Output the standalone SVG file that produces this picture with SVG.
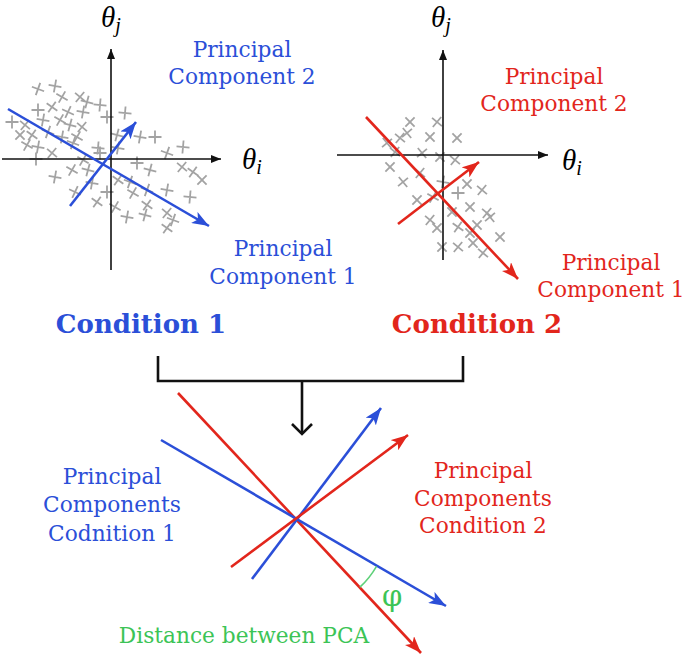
<svg xmlns="http://www.w3.org/2000/svg" xmlns:xlink="http://www.w3.org/1999/xlink" width="685" height="655" viewBox="0 0 685 655">
<style>
.bl{fill:#2b4fd8}
.rd{fill:#e2261c}
.gr{fill:#3cc456}
.t{font-family:"DejaVu Serif","Liberation Serif",serif;font-size:21.7px;text-anchor:middle}
.cond{font-family:"DejaVu Serif","Liberation Serif",serif;font-size:26px;font-weight:bold;text-anchor:middle}
.th{font-family:"Liberation Serif","DejaVu Serif",serif;font-style:italic;font-size:29px}
.sub{font-size:20px}
.ax{stroke:#111;stroke-width:1.6;fill:none}
.lb{stroke:#2b4fd8;stroke-width:2.6;fill:none}
.lr{stroke:#e2261c;stroke-width:2.6;fill:none}
.cr use{stroke:#a3a3a3;stroke-width:1.8}
</style>
<defs>
<path id="c" d="M-6.5,0H6.5M0,-6.5V6.5" fill="none"/>
<marker id="ak" viewBox="0 0 10 10" refX="10" refY="5" markerWidth="10" markerHeight="10" markerUnits="userSpaceOnUse" orient="auto"><path d="M0,1L10,5L0,9z" fill="#111"/></marker>
<marker id="ab" viewBox="0 0 16 12" refX="16" refY="6" markerWidth="17" markerHeight="13" markerUnits="userSpaceOnUse" orient="auto"><path d="M0,0L16,6L0,12L4,6z" fill="#2b4fd8"/></marker>
<marker id="ar" viewBox="0 0 16 12" refX="16" refY="6" markerWidth="17" markerHeight="13" markerUnits="userSpaceOnUse" orient="auto"><path d="M0,0L16,6L0,12L4,6z" fill="#e2261c"/></marker>
</defs>

<g id="plot1">
<g class="cr">
<use xlink:href="#c" transform="translate(38,89) rotate(20)"/>
<use xlink:href="#c" transform="translate(55,86) rotate(10)"/>
<use xlink:href="#c" transform="translate(62,97) rotate(30)"/>
<use xlink:href="#c" transform="translate(80,97) rotate(40)"/>
<use xlink:href="#c" transform="translate(87,102) rotate(15)"/>
<use xlink:href="#c" transform="translate(100,105) rotate(5)"/>
<use xlink:href="#c" transform="translate(38,110) rotate(0)"/>
<use xlink:href="#c" transform="translate(52,107) rotate(35)"/>
<use xlink:href="#c" transform="translate(68,112) rotate(25)"/>
<use xlink:href="#c" transform="translate(83,112) rotate(10)"/>
<use xlink:href="#c" transform="translate(107,117) rotate(0)"/>
<use xlink:href="#c" transform="translate(125,113) rotate(5)"/>
<use xlink:href="#c" transform="translate(12,122) rotate(0)"/>
<use xlink:href="#c" transform="translate(25,125) rotate(40)"/>
<use xlink:href="#c" transform="translate(43,120) rotate(10)"/>
<use xlink:href="#c" transform="translate(60,120) rotate(30)"/>
<use xlink:href="#c" transform="translate(70,125) rotate(15)"/>
<use xlink:href="#c" transform="translate(82,127) rotate(40)"/>
<use xlink:href="#c" transform="translate(20,135) rotate(45)"/>
<use xlink:href="#c" transform="translate(32,135) rotate(35)"/>
<use xlink:href="#c" transform="translate(48,132) rotate(20)"/>
<use xlink:href="#c" transform="translate(62,137) rotate(10)"/>
<use xlink:href="#c" transform="translate(77,137) rotate(30)"/>
<use xlink:href="#c" transform="translate(117,135) rotate(15)"/>
<use xlink:href="#c" transform="translate(140,137) rotate(10)"/>
<use xlink:href="#c" transform="translate(155,137) rotate(0)"/>
<use xlink:href="#c" transform="translate(27,145) rotate(30)"/>
<use xlink:href="#c" transform="translate(38,147) rotate(10)"/>
<use xlink:href="#c" transform="translate(73,143) rotate(20)"/>
<use xlink:href="#c" transform="translate(98,148) rotate(5)"/>
<use xlink:href="#c" transform="translate(52,153) rotate(40)"/>
<use xlink:href="#c" transform="translate(36,159) rotate(0)"/>
<use xlink:href="#c" transform="translate(83,160) rotate(30)"/>
<use xlink:href="#c" transform="translate(100,153) rotate(0)"/>
<use xlink:href="#c" transform="translate(118,148) rotate(10)"/>
<use xlink:href="#c" transform="translate(167,153) rotate(20)"/>
<use xlink:href="#c" transform="translate(183,147) rotate(5)"/>
<use xlink:href="#c" transform="translate(137,163) rotate(0)"/>
<use xlink:href="#c" transform="translate(150,170) rotate(15)"/>
<use xlink:href="#c" transform="translate(182,167) rotate(40)"/>
<use xlink:href="#c" transform="translate(193,172) rotate(35)"/>
<use xlink:href="#c" transform="translate(202,180) rotate(45)"/>
<use xlink:href="#c" transform="translate(55,177) rotate(10)"/>
<use xlink:href="#c" transform="translate(72,170) rotate(30)"/>
<use xlink:href="#c" transform="translate(88,170) rotate(15)"/>
<use xlink:href="#c" transform="translate(118,180) rotate(35)"/>
<use xlink:href="#c" transform="translate(130,182) rotate(20)"/>
<use xlink:href="#c" transform="translate(75,192) rotate(25)"/>
<use xlink:href="#c" transform="translate(92,183) rotate(10)"/>
<use xlink:href="#c" transform="translate(107,192) rotate(0)"/>
<use xlink:href="#c" transform="translate(97,202) rotate(35)"/>
<use xlink:href="#c" transform="translate(133,193) rotate(30)"/>
<use xlink:href="#c" transform="translate(147,190) rotate(20)"/>
<use xlink:href="#c" transform="translate(167,190) rotate(10)"/>
<use xlink:href="#c" transform="translate(190,197) rotate(5)"/>
<use xlink:href="#c" transform="translate(115,207) rotate(30)"/>
<use xlink:href="#c" transform="translate(127,217) rotate(10)"/>
<use xlink:href="#c" transform="translate(147,205) rotate(35)"/>
<use xlink:href="#c" transform="translate(145,215) rotate(15)"/>
<use xlink:href="#c" transform="translate(167,213) rotate(40)"/>
<use xlink:href="#c" transform="translate(173,220) rotate(20)"/>
<use xlink:href="#c" transform="translate(167,228) rotate(35)"/>
</g>
<line class="ax" x1="111" y1="270" x2="111" y2="49" marker-end="url(#ak)"/>
<line class="ax" x1="2" y1="159" x2="221" y2="159" marker-end="url(#ak)"/>
<line class="lb" x1="8" y1="109" x2="209" y2="226" marker-end="url(#ab)"/>
<line class="lb" x1="70" y1="206" x2="136" y2="122" marker-end="url(#ab)"/>
<text class="th" x="101" y="27">θ<tspan class="sub" dy="5">j</tspan></text>
<text class="th" x="242" y="169">θ<tspan class="sub" dy="5">i</tspan></text>
<text class="t bl" x="242" y="57">Principal</text>
<text class="t bl" x="242" y="84">Component 2</text>
<text class="t bl" x="283" y="256">Principal</text>
<text class="t bl" x="283" y="284">Component 1</text>
</g>

<g id="plot2">
<g class="cr">
<use xlink:href="#c" transform="translate(410,122) rotate(45)"/>
<use xlink:href="#c" transform="translate(437,122) rotate(40)"/>
<use xlink:href="#c" transform="translate(387,143) rotate(50)"/>
<use xlink:href="#c" transform="translate(400,138) rotate(40)"/>
<use xlink:href="#c" transform="translate(407,133) rotate(50)"/>
<use xlink:href="#c" transform="translate(430,137) rotate(45)"/>
<use xlink:href="#c" transform="translate(457,138) rotate(45)"/>
<use xlink:href="#c" transform="translate(395,152) rotate(40)"/>
<use xlink:href="#c" transform="translate(422,153) rotate(50)"/>
<use xlink:href="#c" transform="translate(440,157) rotate(45)"/>
<use xlink:href="#c" transform="translate(455,160) rotate(40)"/>
<use xlink:href="#c" transform="translate(390,167) rotate(45)"/>
<use xlink:href="#c" transform="translate(403,182) rotate(50)"/>
<use xlink:href="#c" transform="translate(420,173) rotate(40)"/>
<use xlink:href="#c" transform="translate(443,182) rotate(10)"/>
<use xlink:href="#c" transform="translate(467,184) rotate(45)"/>
<use xlink:href="#c" transform="translate(482,190) rotate(40)"/>
<use xlink:href="#c" transform="translate(417,200) rotate(45)"/>
<use xlink:href="#c" transform="translate(433,197) rotate(30)"/>
<use xlink:href="#c" transform="translate(458,193) rotate(0)"/>
<use xlink:href="#c" transform="translate(470,207) rotate(45)"/>
<use xlink:href="#c" transform="translate(487,213) rotate(40)"/>
<use xlink:href="#c" transform="translate(430,220) rotate(40)"/>
<use xlink:href="#c" transform="translate(437,228) rotate(45)"/>
<use xlink:href="#c" transform="translate(458,227) rotate(35)"/>
<use xlink:href="#c" transform="translate(477,225) rotate(45)"/>
<use xlink:href="#c" transform="translate(490,217) rotate(50)"/>
<use xlink:href="#c" transform="translate(500,237) rotate(45)"/>
<use xlink:href="#c" transform="translate(442,247) rotate(45)"/>
<use xlink:href="#c" transform="translate(458,247) rotate(40)"/>
<use xlink:href="#c" transform="translate(473,243) rotate(45)"/>
<use xlink:href="#c" transform="translate(483,253) rotate(40)"/>
<use xlink:href="#c" transform="translate(470,233) rotate(45)"/>
<use xlink:href="#c" transform="translate(452,212) rotate(45)"/>
</g>
<line class="ax" x1="443" y1="260" x2="443" y2="50" marker-end="url(#ak)"/>
<line class="ax" x1="337" y1="155" x2="548" y2="155" marker-end="url(#ak)"/>
<line class="lr" x1="366" y1="117" x2="518" y2="279" marker-end="url(#ar)"/>
<line class="lr" x1="398" y1="224" x2="479" y2="162" marker-end="url(#ar)"/>
<text class="th" x="431" y="27">θ<tspan class="sub" dy="5">j</tspan></text>
<text class="th" x="562" y="170">θ<tspan class="sub" dy="5">i</tspan></text>
<text class="t rd" x="554" y="84">Principal</text>
<text class="t rd" x="554" y="111">Component 2</text>
<text class="t rd" x="611" y="270">Principal</text>
<text class="t rd" x="611" y="297">Component 1</text>
</g>

<g id="cond1"><text class="cond bl" x="141" y="333">Condition 1</text></g>
<g id="cond2"><text class="cond rd" x="477" y="333">Condition 2</text></g>

<g id="connectors">
<path d="M158,356V381H463V356M302,381V434" fill="none" stroke="#111" stroke-width="2.6"/>
<path d="M292,424L302,434L312,424" fill="none" stroke="#111" stroke-width="2.6"/>
</g>

<g id="result">
<line class="lr" x1="178" y1="393" x2="421" y2="653" marker-end="url(#ar)"/>
<line class="lb" x1="161" y1="440" x2="446" y2="606" marker-end="url(#ab)"/>
<line class="lb" x1="252" y1="579" x2="381" y2="408" marker-end="url(#ab)"/>
<line class="lr" x1="231" y1="567" x2="408" y2="435" marker-end="url(#ar)"/>
<path d="M376.5,566.3A92,92 0 0 1 359.9,587.2" fill="none" stroke="#5fd17a" stroke-width="1.6"/>
<text class="gr" x="382" y="606" style="font-family:'DejaVu Serif','Liberation Serif',serif;font-size:29px">φ</text>
<text class="t bl" x="112" y="484">Principal</text>
<text class="t bl" x="112" y="512">Components</text>
<text class="t bl" x="112" y="541">Codnition 1</text>
<text class="t rd" x="483" y="478">Principal</text>
<text class="t rd" x="483" y="506">Components</text>
<text class="t rd" x="483" y="533">Condition 2</text>
<text class="t gr" x="244" y="643">Distance between PCA</text>
</g>
</svg>
